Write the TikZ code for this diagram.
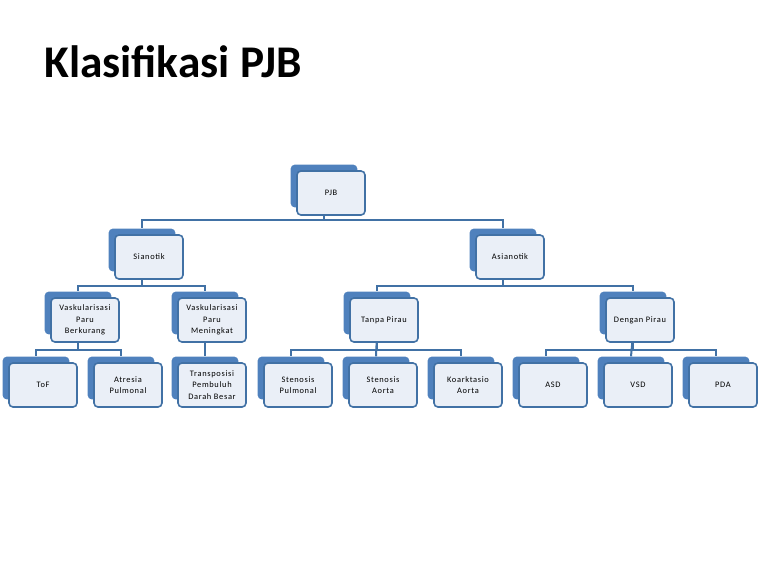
\documentclass[tikz,border=0pt]{standalone}
\usepackage{fontspec}
\setmainfont{Carlito}
\newfontfamily\boxfont[LetterSpace=8]{Carlito}
\usetikzlibrary{backgrounds}
\definecolor{bk}{RGB}{79,129,189}
\definecolor{ln}{RGB}{65,113,165}
\definecolor{fr}{RGB}{234,239,247}
\tikzset{
 backbox/.style={fill=bk,draw=none,rounded corners=3pt,minimum width=50pt,minimum height=32pt,inner sep=0pt},
 frontbox/.style={fill=fr,draw=ln,line width=1.2pt,rounded corners=3pt,minimum width=51pt,minimum height=33pt,inner sep=1pt,align=center,font=\boxfont\fontsize{6.3}{8.5}\selectfont},
 conn/.style={draw=ln,line width=1.5pt}
}
\newcommand\bx[4]{\node[backbox] (#1b) at (#2-7,#3-7) {};\node[frontbox] (#1) at (#2,#3) {#4};}
\newcommand\cn[3]{\draw[conn] (#1b.south) -- ++(0,#2-0) coordinate (tmp) -| (#3b.north);}
\begin{document}
\begin{tikzpicture}[x=0.75pt,y=-0.75pt]
\useasboundingbox (0,0) rectangle (768,576);
\node[anchor=west,font=\bfseries\fontsize{34}{40}\selectfont,inner sep=0pt] (title) at (44,62) {Klasifikasi PJB};
\bx{pjb}{331}{193}{PJB}
\bx{sia}{149}{257}{Sianotik}
\bx{asi}{510}{257}{Asianotik}
\bx{vb}{85}{320}{Vaskularisasi\\Paru\\Berkurang}
\bx{vm}{212}{320}{Vaskularisasi\\Paru\\Meningkat}
\bx{tp}{384}{320}{Tanpa Pirau}
\bx{dp}{640}{320}{Dengan Pirau}
\bx{tof}{43}{385}{ToF}
\bx{atr}{128}{385}{Atresia\\Pulmonal}
\bx{tra}{212}{385}{Transposisi\\Pembuluh\\Darah Besar}
\bx{sp}{298}{385}{Stenosis\\Pulmonal}
\bx{sa}{383}{385}{Stenosis\\Aorta}
\bx{ko}{468}{385}{Koarktasio\\Aorta}
\bx{asd}{553}{385}{ASD}
\bx{vsd}{638}{385}{VSD}
\bx{pda}{723}{385}{PDA}
\begin{scope}[on background layer]
\draw[conn] (pjbb.south) |- (149-7,220) -- (siab.north);
\draw[conn] (pjbb.south) |- (510-7,220) -- (asib.north);
\draw[conn] (siab.south) |- (85-7,286) -- (vbb.north);
\draw[conn] (siab.south) |- (212-7,286) -- (vmb.north);
\draw[conn] (asib.south) |- (384-7,286) -- (tpb.north);
\draw[conn] (asib.south) |- (640-7,286) -- (dpb.north);
\draw[conn] (vbb.south) |- (43-7,350) -- (tofb.north);
\draw[conn] (vbb.south) |- (128-7,350) -- (atrb.north);
\draw[conn] (vmb.south) -- (trab.north);
\draw[conn] (tpb.south) |- (298-7,350) -- (spb.north);
\draw[conn] (tpb.south) -- (sab.north);
\draw[conn] (tpb.south) |- (468-7,350) -- (kob.north);
\draw[conn] (dpb.south) |- (553-7,350) -- (asdb.north);
\draw[conn] (dpb.south) -- (vsdb.north);
\draw[conn] (dpb.south) |- (723-7,350) -- (pdab.north);
\end{scope}
\end{tikzpicture}
\end{document}
